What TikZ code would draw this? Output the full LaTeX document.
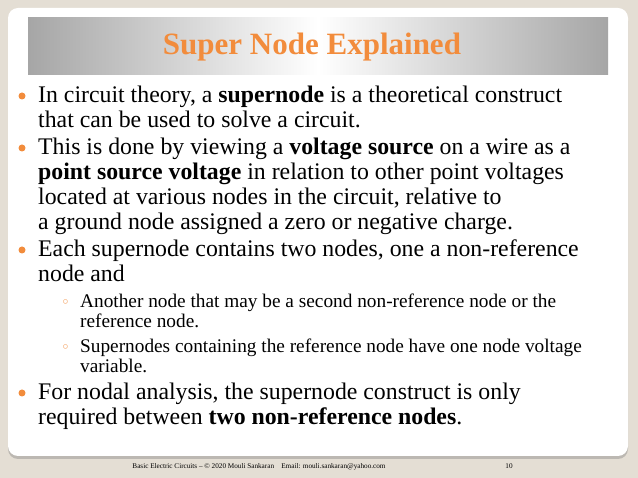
\documentclass[tikz,border=0pt]{standalone}
\usepackage{fontspec}
\setmainfont{Liberation Serif}
\newfontfamily\dejavu{DejaVu Sans}
\usetikzlibrary{shadows}
\definecolor{bg}{HTML}{E4DED4}
\definecolor{org}{HTML}{F28C3C}
\tikzset{
  ln/.style={anchor=base west, inner sep=0pt, font=\fontsize{23.8}{26}\selectfont},
  sl/.style={anchor=base west, inner sep=0pt, font=\fontsize{19.3}{21}\selectfont},
  dot/.style={circle, fill=org, inner sep=0pt, minimum size=7pt},
  sdot/.style={anchor=base west, inner sep=0pt, text=org, font=\fontsize{15}{17}\selectfont},
}
\begin{document}
\begin{tikzpicture}[x=1pt,y=-1pt]
\fill[bg] (0,0) rectangle (638,478);
\fill[white, rounded corners=10pt, drop shadow={shadow xshift=0pt, shadow yshift=-3pt, opacity=0.4}] (8,8) rectangle (628,456);
\shade[left color=gray!70, right color=gray!70, middle color=white] (28,18) rectangle (608,75);
\node[font=\fontsize{31}{34}\bfseries\selectfont, text=org] (title) at (312,47) {Super Node Explained};
\node[dot] (b1) at (22,96) {};
\node[ln] (l1) at (38,103) {In circuit theory, a \textbf{supernode} is a theoretical construct};
\node[ln] (l2) at (38,128) {that can be used to solve a circuit.};
\node[dot] (b2) at (22,148) {};
\node[ln] (l3) at (38,155) {This is done by viewing a \textbf{voltage source} on a wire as a};
\node[ln] (l4) at (38,180) {\textbf{point source voltage} in relation to other point voltages};
\node[ln] (l5) at (38,205) {located at various nodes in the circuit, relative to};
\node[ln] (l6) at (38,230) {a ground node assigned a zero or negative charge.};
\node[dot] (b3) at (22,250) {};
\node[ln] (l7) at (38,257) {Each supernode contains two nodes, one a non-reference};
\node[ln] (l8) at (38,282) {node and};
\node[sdot] (s1) at (61,308) {\dejavu ◦};
\node[sl] (l9) at (80,308) {Another node that may be a second non-reference node or the};
\node[sl] (l10) at (80,328) {reference node.};
\node[sdot] (s2) at (61,353) {\dejavu ◦};
\node[sl] (l11) at (80,353) {Supernodes containing the reference node have one node voltage};
\node[sl] (l12) at (80,373) {variable.};
\node[dot] (b4) at (22,393) {};
\node[ln] (l13) at (38,400) {For nodal analysis, the supernode construct is only};
\node[ln] (l14) at (38,425) {required between \textbf{two non-reference nodes}.};
\node[anchor=base, inner sep=0pt, font=\fontsize{7.2}{8}\selectfont] (foot) at (259,469) {Basic Electric Circuits -- © 2020 Mouli Sankaran\quad Email: mouli.sankaran@yahoo.com};
\node[anchor=base, inner sep=0pt, font=\fontsize{7.2}{8}\selectfont] (pg) at (509,469) {10};
\end{tikzpicture}
\end{document}
